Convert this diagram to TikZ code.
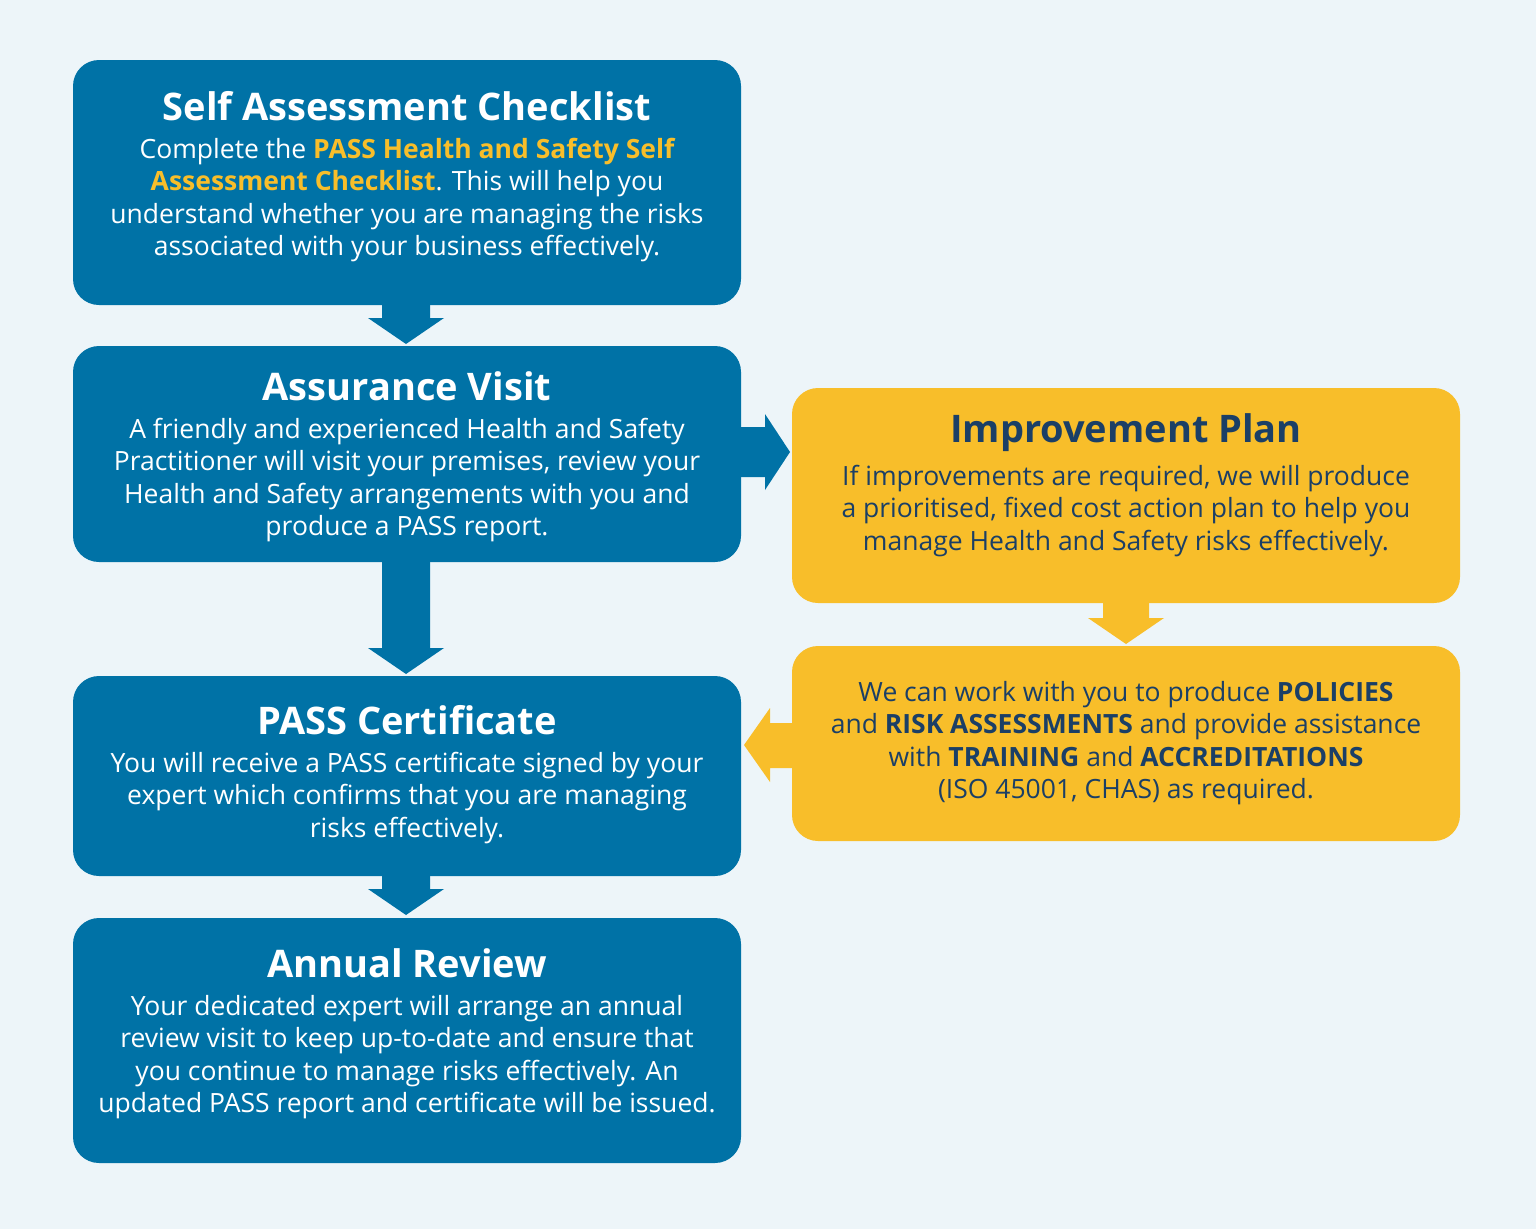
\documentclass[tikz,border=0pt]{standalone}
\usepackage{fontspec}
\setmainfont{Open Sans}
\definecolor{bg}{RGB}{237,245,249}
\definecolor{pblue}{RGB}{0,114,166}
\definecolor{pyel}{RGB}{248,190,42}
\definecolor{navy}{RGB}{27,63,102}
\begin{document}
\begin{tikzpicture}[x=1pt,y=-1pt,
  bbox/.style={fill=pblue,rounded corners=26pt,draw=none},
  ybox/.style={fill=pyel,rounded corners=26pt,draw=none},
  ttl/.style={font=\fontsize{38}{44}\selectfont\bfseries,align=center},
  bdy/.style={font=\fontsize{26.5}{32.5}\selectfont,align=center}]
\fill[bg] (0,0) rectangle (1536,1229);
\useasboundingbox (0,0) rectangle (1536,1229);
% boxes
\path[bbox] (73,60) rectangle (741,305) coordinate (b1);
\path[bbox] (73,346) rectangle (741,562);
\path[bbox] (73,676) rectangle (741,876);
\path[bbox] (73,918) rectangle (741,1163);
\path[ybox] (792,388) rectangle (1460,603);
\path[ybox] (792,646) rectangle (1460,841);
% arrows
\fill[pblue] (382,304) -- (430,304) -- (430,318) -- (444,318) -- (406,344) -- (368,318) -- (382,318) -- cycle;
\fill[pblue] (382,561) -- (430,561) -- (430,648) -- (444,648) -- (406,674) -- (368,648) -- (382,648) -- cycle;
\fill[pblue] (382,875) -- (430,875) -- (430,889) -- (444,889) -- (406,915) -- (368,889) -- (382,889) -- cycle;
\fill[pblue] (740,427) -- (765,427) -- (765,414) -- (790,452) -- (765,490) -- (765,477) -- (740,477) -- cycle;
\fill[pyel] (1103,602) -- (1149,602) -- (1149,618) -- (1164,618) -- (1126,644) -- (1088,618) -- (1103,618) -- cycle;
\fill[pyel] (793,723) -- (770,723) -- (770,708) -- (744,745) -- (770,782) -- (770,768) -- (793,768) -- cycle;
% texts
\node[ttl,white] (t1) at (407,106) {Self Assessment Checklist};
\node[bdy,white] (d1) at (407,200) {Complete the \textcolor{pyel}{\bfseries PASS Health and Safety Self}\\\textcolor{pyel}{\bfseries Assessment Checklist}. This will help you\\understand whether you are managing the risks\\associated with your business effectively.};
\node[ttl,white] (t2) at (407,386) {Assurance Visit};
\node[bdy,white] (d2) at (407,480) {A friendly and experienced Health and Safety\\Practitioner will visit your premises, review your\\Health and Safety arrangements with you and\\produce a PASS report.};
\node[ttl,white] (t3) at (407,720) {PASS Certificate};
\node[bdy,white] (d3) at (407,798) {You will receive a PASS certificate signed by your\\expert which confirms that you are managing\\risks effectively.};
\node[ttl,white] (t4) at (407,963) {Annual Review};
\node[bdy,white] (d4) at (407,1057) {Your dedicated expert will arrange an annual\\review visit to keep up-to-date and ensure that\\you continue to manage risks effectively. An\\updated PASS report and certificate will be issued.};
\node[ttl,navy] (t5) at (1126,433) {Improvement Plan};
\node[bdy,navy] (d5) at (1126,511) {If improvements are required, we will produce\\a prioritised, fixed cost action plan to help you\\manage Health and Safety risks effectively.};
\node[bdy,navy] (d6) at (1126,743) {We can work with you to produce \textbf{POLICIES}\\and \textbf{RISK ASSESSMENTS} and provide assistance\\with \textbf{TRAINING} and \textbf{ACCREDITATIONS}\\(ISO 45001, CHAS) as required.};
\end{tikzpicture}
\end{document}
